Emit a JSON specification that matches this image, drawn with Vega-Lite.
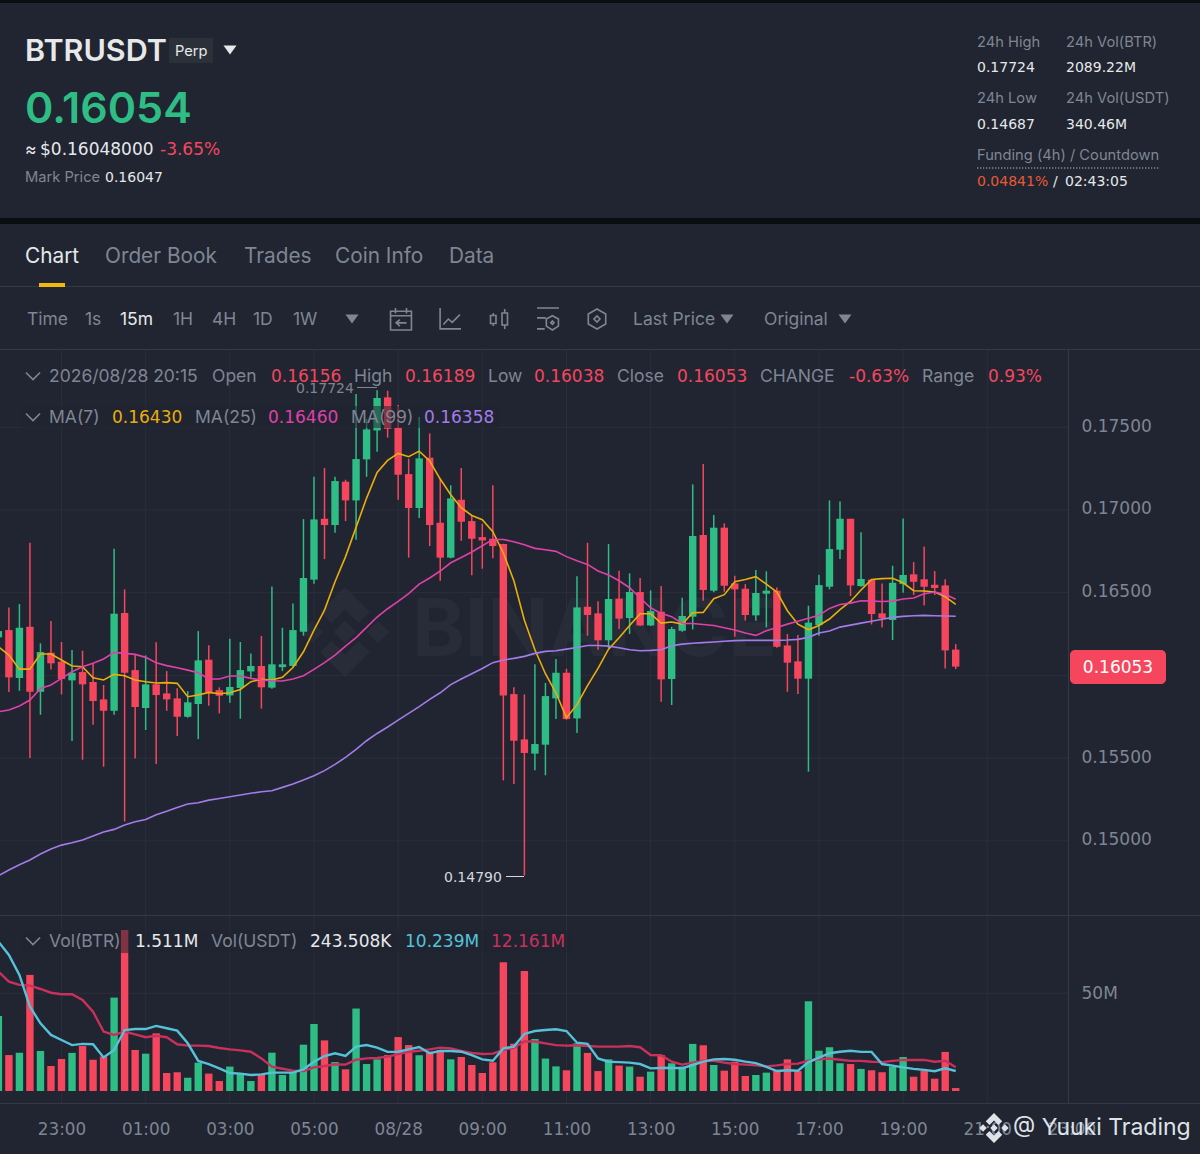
{
  "$schema": "https://vega.github.io/schema/vega-lite/v6.json",
  "width": 1200,
  "height": 1154,
  "autosize": {"type": "none"},
  "padding": 0,
  "background": "#202531",
  "config": {"font": "Inter", "view": {"stroke": null}},
  "datasets": {
    "candles": [
      {"t":"2026-08-27T21:30Z","open":0.16230,"high":0.16355,"low":0.16194,"close":0.16268,"ma7":0.16173,"ma25":0.15780,"ma99":0.14789,"vol":38.4,"vol5":76.5,"vol10":61.1},
      {"t":"2026-08-27T21:45Z","open":0.16274,"high":0.16411,"low":0.15899,"close":0.15988,"ma7":0.16123,"ma25":0.15791,"ma99":0.14823,"vol":18.4,"vol5":69.6,"vol10":56.0},
      {"t":"2026-08-27T22:00Z","open":0.15984,"high":0.16431,"low":0.15907,"close":0.16288,"ma7":0.16038,"ma25":0.15815,"ma99":0.14855,"vol":19.6,"vol5":59.4,"vol10":54.3},
      {"t":"2026-08-27T22:15Z","open":0.16294,"high":0.16802,"low":0.15500,"close":0.15901,"ma7":0.16038,"ma25":0.15851,"ma99":0.14884,"vol":59.4,"vol5":43.2,"vol10":53.9},
      {"t":"2026-08-27T22:30Z","open":0.15901,"high":0.16194,"low":0.15762,"close":0.16141,"ma7":0.16129,"ma25":0.15921,"ma99":0.14920,"vol":20.5,"vol5":34.6,"vol10":52.2},
      {"t":"2026-08-27T22:45Z","open":0.16137,"high":0.16329,"low":0.16036,"close":0.16073,"ma7":0.16129,"ma25":0.15942,"ma99":0.14950,"vol":12.8,"vol5":28.7,"vol10":50.3},
      {"t":"2026-08-27T23:00Z","open":0.16083,"high":0.16202,"low":0.15885,"close":0.15978,"ma7":0.16093,"ma25":0.15982,"ma99":0.14974,"vol":16.4,"vol5":26.1,"vol10":49.5},
      {"t":"2026-08-27T23:15Z","open":0.15970,"high":0.16153,"low":0.15603,"close":0.16016,"ma7":0.16057,"ma25":0.16022,"ma99":0.14988,"vol":19.5,"vol5":23.5,"vol10":49.5},
      {"t":"2026-08-27T23:30Z","open":0.16020,"high":0.16149,"low":0.15490,"close":0.15946,"ma7":0.16052,"ma25":0.16052,"ma99":0.15005,"vol":23.0,"vol5":24.1,"vol10":46.6},
      {"t":"2026-08-27T23:45Z","open":0.15960,"high":0.16073,"low":0.15702,"close":0.15845,"ma7":0.15986,"ma25":0.16073,"ma99":0.15029,"vol":16.0,"vol5":23.9,"vol10":40.6},
      {"t":"2026-08-28T00:00Z","open":0.15855,"high":0.15942,"low":0.15448,"close":0.15786,"ma7":0.15972,"ma25":0.16099,"ma99":0.15053,"vol":17.6,"vol5":17.2,"vol10":30.4},
      {"t":"2026-08-28T00:15Z","open":0.15786,"high":0.16766,"low":0.15762,"close":0.16373,"ma7":0.16006,"ma25":0.16139,"ma99":0.15069,"vol":47.8,"vol5":21.0,"vol10":28.7},
      {"t":"2026-08-28T00:30Z","open":0.16377,"high":0.16520,"low":0.15117,"close":0.16016,"ma7":0.15998,"ma25":0.16133,"ma99":0.15095,"vol":82.4,"vol5":31.2,"vol10":30.4},
      {"t":"2026-08-28T00:45Z","open":0.16032,"high":0.16123,"low":0.15498,"close":0.15809,"ma7":0.15972,"ma25":0.16127,"ma99":0.15115,"vol":21.0,"vol5":31.7,"vol10":29.0},
      {"t":"2026-08-28T01:00Z","open":0.15803,"high":0.16121,"low":0.15670,"close":0.15946,"ma7":0.15962,"ma25":0.16109,"ma99":0.15129,"vol":19.1,"vol5":31.7,"vol10":27.5},
      {"t":"2026-08-28T01:15Z","open":0.15946,"high":0.16200,"low":0.15464,"close":0.15881,"ma7":0.15954,"ma25":0.16077,"ma99":0.15158,"vol":29.5,"vol5":33.3,"vol10":28.3},
      {"t":"2026-08-28T01:30Z","open":0.15891,"high":0.16026,"low":0.15786,"close":0.15855,"ma7":0.15956,"ma25":0.16059,"ma99":0.15178,"vol":9.2,"vol5":32.1,"vol10":27.5},
      {"t":"2026-08-28T01:45Z","open":0.15861,"high":0.15922,"low":0.15633,"close":0.15750,"ma7":0.15952,"ma25":0.16046,"ma99":0.15202,"vol":9.6,"vol5":30.9,"vol10":23.9},
      {"t":"2026-08-28T02:00Z","open":0.15750,"high":0.15905,"low":0.15744,"close":0.15837,"ma7":0.15871,"ma25":0.16032,"ma99":0.15222,"vol":6.8,"vol5":24.4,"vol10":23.2},
      {"t":"2026-08-28T02:15Z","open":0.15827,"high":0.16268,"low":0.15615,"close":0.16091,"ma7":0.15881,"ma25":0.16016,"ma99":0.15230,"vol":14.5,"vol5":15.4,"vol10":23.2},
      {"t":"2026-08-28T02:30Z","open":0.16095,"high":0.16183,"low":0.15817,"close":0.15899,"ma7":0.15897,"ma25":0.15978,"ma99":0.15246,"vol":8.9,"vol5":13.8,"vol10":23.0},
      {"t":"2026-08-28T02:45Z","open":0.15911,"high":0.15928,"low":0.15770,"close":0.15877,"ma7":0.15889,"ma25":0.15978,"ma99":0.15256,"vol":5.1,"vol5":11.6,"vol10":22.0},
      {"t":"2026-08-28T03:00Z","open":0.15879,"high":0.16222,"low":0.15835,"close":0.15930,"ma7":0.15895,"ma25":0.15996,"ma99":0.15266,"vol":12.5,"vol5":9.2,"vol10":21.3},
      {"t":"2026-08-28T03:15Z","open":0.15924,"high":0.16202,"low":0.15738,"close":0.16032,"ma7":0.15915,"ma25":0.15996,"ma99":0.15277,"vol":9.0,"vol5":8.9,"vol10":20.8},
      {"t":"2026-08-28T03:30Z","open":0.16024,"high":0.16133,"low":0.15986,"close":0.16057,"ma7":0.15962,"ma25":0.15982,"ma99":0.15287,"vol":5.1,"vol5":8.2,"vol10":20.1},
      {"t":"2026-08-28T03:45Z","open":0.16057,"high":0.16238,"low":0.15799,"close":0.15928,"ma7":0.15976,"ma25":0.15972,"ma99":0.15297,"vol":8.2,"vol5":8.5,"vol10":16.7},
      {"t":"2026-08-28T04:00Z","open":0.15926,"high":0.16538,"low":0.15920,"close":0.16067,"ma7":0.15972,"ma25":0.15968,"ma99":0.15303,"vol":19.6,"vol5":9.4,"vol10":12.5},
      {"t":"2026-08-28T04:15Z","open":0.16050,"high":0.16288,"low":0.16026,"close":0.16067,"ma7":0.15988,"ma25":0.15966,"ma99":0.15323,"vol":8.2,"vol5":9.4,"vol10":11.4},
      {"t":"2026-08-28T04:30Z","open":0.16057,"high":0.16435,"low":0.16052,"close":0.16274,"ma7":0.16048,"ma25":0.15978,"ma99":0.15343,"vol":9.4,"vol5":9.4,"vol10":10.4},
      {"t":"2026-08-28T04:45Z","open":0.16264,"high":0.16945,"low":0.16240,"close":0.16589,"ma7":0.16143,"ma25":0.15998,"ma99":0.15367,"vol":23.7,"vol5":11.1,"vol10":10.2},
      {"t":"2026-08-28T05:00Z","open":0.16579,"high":0.17201,"low":0.16554,"close":0.16943,"ma7":0.16274,"ma25":0.16036,"ma99":0.15393,"vol":34.3,"vol5":15.0,"vol10":12.1},
      {"t":"2026-08-28T05:15Z","open":0.16947,"high":0.17254,"low":0.16703,"close":0.16909,"ma7":0.16395,"ma25":0.16077,"ma99":0.15424,"vol":25.9,"vol5":17.9,"vol10":12.8},
      {"t":"2026-08-28T05:30Z","open":0.16909,"high":0.17201,"low":0.16863,"close":0.17175,"ma7":0.16566,"ma25":0.16123,"ma99":0.15462,"vol":14.8,"vol5":19.3,"vol10":13.7},
      {"t":"2026-08-28T05:45Z","open":0.17171,"high":0.17183,"low":0.16933,"close":0.17058,"ma7":0.16718,"ma25":0.16177,"ma99":0.15504,"vol":11.1,"vol5":17.9,"vol10":13.5},
      {"t":"2026-08-28T06:00Z","open":0.17058,"high":0.17701,"low":0.16820,"close":0.17308,"ma7":0.16895,"ma25":0.16228,"ma99":0.15553,"vol":42.2,"vol5":22.7,"vol10":16.0},
      {"t":"2026-08-28T06:15Z","open":0.17306,"high":0.17550,"low":0.17201,"close":0.17487,"ma7":0.17072,"ma25":0.16290,"ma99":0.15605,"vol":13.8,"vol5":23.5,"vol10":16.7},
      {"t":"2026-08-28T06:30Z","open":0.17481,"high":0.17724,"low":0.17352,"close":0.17677,"ma7":0.17227,"ma25":0.16353,"ma99":0.15649,"vol":16.2,"vol5":22.2,"vol10":16.9},
      {"t":"2026-08-28T06:45Z","open":0.17681,"high":0.17721,"low":0.17437,"close":0.17491,"ma7":0.17300,"ma25":0.16403,"ma99":0.15688,"vol":18.4,"vol5":20.0,"vol10":17.6},
      {"t":"2026-08-28T07:00Z","open":0.17497,"high":0.17635,"low":0.17062,"close":0.17213,"ma7":0.17342,"ma25":0.16447,"ma99":0.15730,"vol":27.6,"vol5":20.1,"vol10":18.9},
      {"t":"2026-08-28T07:15Z","open":0.17217,"high":0.17310,"low":0.16712,"close":0.17012,"ma7":0.17322,"ma25":0.16494,"ma99":0.15770,"vol":23.5,"vol5":21.3,"vol10":20.1},
      {"t":"2026-08-28T07:30Z","open":0.17012,"high":0.17562,"low":0.16951,"close":0.17312,"ma7":0.17356,"ma25":0.16552,"ma99":0.15811,"vol":18.3,"vol5":22.5,"vol10":20.6},
      {"t":"2026-08-28T07:45Z","open":0.17316,"high":0.17463,"low":0.16782,"close":0.16909,"ma7":0.17296,"ma25":0.16589,"ma99":0.15855,"vol":20.1,"vol5":19.3,"vol10":21.3},
      {"t":"2026-08-28T08:00Z","open":0.16923,"high":0.17193,"low":0.16572,"close":0.16712,"ma7":0.17187,"ma25":0.16631,"ma99":0.15895,"vol":21.0,"vol5":20.5,"vol10":22.2},
      {"t":"2026-08-28T08:15Z","open":0.16712,"high":0.17149,"low":0.16708,"close":0.17070,"ma7":0.17092,"ma25":0.16681,"ma99":0.15944,"vol":16.2,"vol5":20.5,"vol10":21.8},
      {"t":"2026-08-28T08:30Z","open":0.17062,"high":0.17254,"low":0.16814,"close":0.16929,"ma7":0.17014,"ma25":0.16713,"ma99":0.15978,"vol":17.4,"vol5":20.1,"vol10":20.5},
      {"t":"2026-08-28T08:45Z","open":0.16933,"high":0.16967,"low":0.16605,"close":0.16826,"ma7":0.16967,"ma25":0.16746,"ma99":0.16010,"vol":13.3,"vol5":18.4,"vol10":19.5},
      {"t":"2026-08-28T09:00Z","open":0.16836,"high":0.16917,"low":0.16645,"close":0.16816,"ma7":0.16941,"ma25":0.16784,"ma99":0.16042,"vol":9.2,"vol5":16.2,"vol10":18.9},
      {"t":"2026-08-28T09:15Z","open":0.16826,"high":0.17149,"low":0.16709,"close":0.16782,"ma7":0.16869,"ma25":0.16822,"ma99":0.16077,"vol":14.7,"vol5":15.5,"vol10":19.1},
      {"t":"2026-08-28T09:30Z","open":0.16794,"high":0.16796,"low":0.15365,"close":0.15879,"ma7":0.16740,"ma25":0.16822,"ma99":0.16093,"vol":65.9,"vol5":21.8,"vol10":21.0},
      {"t":"2026-08-28T09:45Z","open":0.15887,"high":0.15928,"low":0.15343,"close":0.15605,"ma7":0.16572,"ma25":0.16808,"ma99":0.16103,"vol":24.2,"vol5":22.7,"vol10":22.2},
      {"t":"2026-08-28T10:00Z","open":0.15613,"high":0.15885,"low":0.14790,"close":0.15531,"ma7":0.16333,"ma25":0.16790,"ma99":0.16115,"vol":61.4,"vol5":29.2,"vol10":25.3},
      {"t":"2026-08-28T10:15Z","open":0.15527,"high":0.16067,"low":0.15426,"close":0.15585,"ma7":0.16155,"ma25":0.16768,"ma99":0.16133,"vol":26.6,"vol5":30.7,"vol10":25.3},
      {"t":"2026-08-28T10:30Z","open":0.15581,"high":0.15954,"low":0.15396,"close":0.15875,"ma7":0.16010,"ma25":0.16760,"ma99":0.16145,"vol":16.6,"vol5":31.2,"vol10":24.4},
      {"t":"2026-08-28T10:45Z","open":0.15861,"high":0.16099,"low":0.15736,"close":0.16016,"ma7":0.15895,"ma25":0.16750,"ma99":0.16149,"vol":12.6,"vol5":31.6,"vol10":23.5},
      {"t":"2026-08-28T11:00Z","open":0.16016,"high":0.16040,"low":0.15732,"close":0.15736,"ma7":0.15744,"ma25":0.16718,"ma99":0.16159,"vol":10.6,"vol5":30.7,"vol10":23.2},
      {"t":"2026-08-28T11:15Z","open":0.15740,"high":0.16599,"low":0.15651,"close":0.16411,"ma7":0.15823,"ma25":0.16693,"ma99":0.16169,"vol":24.4,"vol5":24.7,"vol10":23.4},
      {"t":"2026-08-28T11:30Z","open":0.16415,"high":0.16802,"low":0.16240,"close":0.16365,"ma7":0.15938,"ma25":0.16671,"ma99":0.16181,"vol":19.5,"vol5":24.1,"vol10":23.0},
      {"t":"2026-08-28T11:45Z","open":0.16375,"high":0.16448,"low":0.16155,"close":0.16212,"ma7":0.16042,"ma25":0.16631,"ma99":0.16181,"vol":10.2,"vol5":16.7,"vol10":22.7},
      {"t":"2026-08-28T12:00Z","open":0.16212,"high":0.16794,"low":0.16165,"close":0.16462,"ma7":0.16159,"ma25":0.16607,"ma99":0.16177,"vol":16.2,"vol5":15.0,"vol10":22.7},
      {"t":"2026-08-28T12:15Z","open":0.16464,"high":0.16633,"low":0.16280,"close":0.16343,"ma7":0.16228,"ma25":0.16572,"ma99":0.16167,"vol":13.0,"vol5":14.8,"vol10":22.7},
      {"t":"2026-08-28T12:30Z","open":0.16347,"high":0.16617,"low":0.16250,"close":0.16504,"ma7":0.16302,"ma25":0.16530,"ma99":0.16155,"vol":12.5,"vol5":14.5,"vol10":23.0},
      {"t":"2026-08-28T12:45Z","open":0.16504,"high":0.16589,"low":0.16298,"close":0.16302,"ma7":0.16373,"ma25":0.16468,"ma99":0.16149,"vol":7.3,"vol5":13.8,"vol10":22.4},
      {"t":"2026-08-28T13:00Z","open":0.16302,"high":0.16514,"low":0.16298,"close":0.16389,"ma7":0.16373,"ma25":0.16409,"ma99":0.16151,"vol":9.9,"vol5":11.6,"vol10":18.4},
      {"t":"2026-08-28T13:15Z","open":0.16385,"high":0.16540,"low":0.15841,"close":0.15976,"ma7":0.16316,"ma25":0.16375,"ma99":0.16155,"vol":18.4,"vol5":11.8,"vol10":18.3},
      {"t":"2026-08-28T13:30Z","open":0.15978,"high":0.16294,"low":0.15821,"close":0.16280,"ma7":0.16323,"ma25":0.16355,"ma99":0.16179,"vol":14.2,"vol5":11.9,"vol10":15.0},
      {"t":"2026-08-28T13:45Z","open":0.16270,"high":0.16470,"low":0.16264,"close":0.16359,"ma7":0.16310,"ma25":0.16314,"ma99":0.16189,"vol":12.5,"vol5":11.6,"vol10":13.5},
      {"t":"2026-08-28T14:00Z","open":0.16355,"high":0.17155,"low":0.16278,"close":0.16843,"ma7":0.16379,"ma25":0.16314,"ma99":0.16194,"vol":24.1,"vol5":13.3,"vol10":14.5},
      {"t":"2026-08-28T14:15Z","open":0.16849,"high":0.17278,"low":0.16452,"close":0.16516,"ma7":0.16381,"ma25":0.16308,"ma99":0.16198,"vol":23.4,"vol5":15.0,"vol10":15.4},
      {"t":"2026-08-28T14:30Z","open":0.16512,"high":0.16969,"low":0.16502,"close":0.16893,"ma7":0.16464,"ma25":0.16302,"ma99":0.16202,"vol":13.3,"vol5":16.2,"vol10":15.5},
      {"t":"2026-08-28T14:45Z","open":0.16893,"high":0.16919,"low":0.16506,"close":0.16542,"ma7":0.16488,"ma25":0.16288,"ma99":0.16206,"vol":10.4,"vol5":16.4,"vol10":14.5},
      {"t":"2026-08-28T15:00Z","open":0.16556,"high":0.16603,"low":0.16234,"close":0.16520,"ma7":0.16566,"ma25":0.16274,"ma99":0.16210,"vol":15.0,"vol5":16.0,"vol10":13.8},
      {"t":"2026-08-28T15:15Z","open":0.16524,"high":0.16552,"low":0.16331,"close":0.16365,"ma7":0.16580,"ma25":0.16256,"ma99":0.16212,"vol":7.7,"vol5":15.0,"vol10":13.5},
      {"t":"2026-08-28T15:30Z","open":0.16363,"high":0.16637,"low":0.16331,"close":0.16498,"ma7":0.16597,"ma25":0.16242,"ma99":0.16212,"vol":8.2,"vol5":14.3,"vol10":13.1},
      {"t":"2026-08-28T15:45Z","open":0.16494,"high":0.16629,"low":0.16290,"close":0.16512,"ma7":0.16552,"ma25":0.16270,"ma99":0.16212,"vol":9.4,"vol5":12.3,"vol10":12.6},
      {"t":"2026-08-28T16:00Z","open":0.16512,"high":0.16532,"low":0.16167,"close":0.16173,"ma7":0.16504,"ma25":0.16290,"ma99":0.16212,"vol":10.8,"vol5":10.2,"vol10":13.1},
      {"t":"2026-08-28T16:15Z","open":0.16181,"high":0.16250,"low":0.15901,"close":0.16077,"ma7":0.16391,"ma25":0.16310,"ma99":0.16214,"vol":16.2,"vol5":10.6,"vol10":13.8},
      {"t":"2026-08-28T16:30Z","open":0.16085,"high":0.16244,"low":0.15887,"close":0.15980,"ma7":0.16310,"ma25":0.16327,"ma99":0.16218,"vol":10.2,"vol5":10.4,"vol10":14.0},
      {"t":"2026-08-28T16:45Z","open":0.15980,"high":0.16421,"low":0.15418,"close":0.16319,"ma7":0.16276,"ma25":0.16345,"ma99":0.16230,"vol":45.9,"vol5":14.8,"vol10":15.5},
      {"t":"2026-08-28T17:00Z","open":0.16304,"high":0.16609,"low":0.16240,"close":0.16546,"ma7":0.16302,"ma25":0.16363,"ma99":0.16256,"vol":20.6,"vol5":17.1,"vol10":16.2},
      {"t":"2026-08-28T17:15Z","open":0.16536,"high":0.17058,"low":0.16520,"close":0.16764,"ma7":0.16341,"ma25":0.16405,"ma99":0.16268,"vol":22.4,"vol5":19.3,"vol10":16.6},
      {"t":"2026-08-28T17:30Z","open":0.16760,"high":0.17052,"low":0.16703,"close":0.16947,"ma7":0.16397,"ma25":0.16429,"ma99":0.16292,"vol":14.2,"vol5":20.1,"vol10":16.0},
      {"t":"2026-08-28T17:45Z","open":0.16947,"high":0.16947,"low":0.16480,"close":0.16544,"ma7":0.16447,"ma25":0.16437,"ma99":0.16304,"vol":13.8,"vol5":20.6,"vol10":15.4},
      {"t":"2026-08-28T18:00Z","open":0.16540,"high":0.16865,"low":0.16536,"close":0.16583,"ma7":0.16516,"ma25":0.16451,"ma99":0.16316,"vol":11.3,"vol5":20.0,"vol10":15.4},
      {"t":"2026-08-28T18:15Z","open":0.16579,"high":0.16583,"low":0.16308,"close":0.16371,"ma7":0.16580,"ma25":0.16449,"ma99":0.16327,"vol":10.6,"vol5":20.0,"vol10":15.0},
      {"t":"2026-08-28T18:30Z","open":0.16375,"high":0.16556,"low":0.16290,"close":0.16345,"ma7":0.16585,"ma25":0.16447,"ma99":0.16339,"vol":9.6,"vol5":13.8,"vol10":14.8},
      {"t":"2026-08-28T18:45Z","open":0.16335,"high":0.16663,"low":0.16214,"close":0.16560,"ma7":0.16587,"ma25":0.16449,"ma99":0.16351,"vol":12.5,"vol5":13.0,"vol10":15.4},
      {"t":"2026-08-28T19:00Z","open":0.16552,"high":0.16949,"low":0.16500,"close":0.16607,"ma7":0.16560,"ma25":0.16462,"ma99":0.16357,"vol":17.4,"vol5":12.1,"vol10":15.9},
      {"t":"2026-08-28T19:15Z","open":0.16611,"high":0.16685,"low":0.16486,"close":0.16566,"ma7":0.16512,"ma25":0.16468,"ma99":0.16361,"vol":7.3,"vol5":11.3,"vol10":15.9},
      {"t":"2026-08-28T19:30Z","open":0.16581,"high":0.16780,"low":0.16423,"close":0.16536,"ma7":0.16510,"ma25":0.16494,"ma99":0.16363,"vol":10.4,"vol5":10.8,"vol10":15.9},
      {"t":"2026-08-28T19:45Z","open":0.16548,"high":0.16631,"low":0.16486,"close":0.16528,"ma7":0.16504,"ma25":0.16504,"ma99":0.16361,"vol":6.3,"vol5":10.1,"vol10":15.0},
      {"t":"2026-08-28T20:00Z","open":0.16544,"high":0.16581,"low":0.16042,"close":0.16151,"ma7":0.16476,"ma25":0.16490,"ma99":0.16359,"vol":20.0,"vol5":11.6,"vol10":15.5},
      {"t":"2026-08-28T20:15Z","open":0.16156,"high":0.16189,"low":0.16038,"close":0.16053,"ma7":0.16430,"ma25":0.16460,"ma99":0.16358,"vol":1.511,"vol5":10.239,"vol10":12.161}
    ]
  },
  "resolve": {
    "scale": {"x": "independent", "y": "independent", "color": "independent"},
    "axis": {"x": "independent", "y": "independent"}
  },
  "layer": [
    {
      "encoding": {
        "x": {"field": "x0", "type": "quantitative", "scale": {"domain": [0, 1200], "nice": false, "zero": false}, "axis": null},
        "y": {"field": "y0", "type": "quantitative", "scale": {"domain": [0, 1154], "reverse": true, "nice": false, "zero": false}, "axis": null}
      },
      "layer": [
        {
          "data": {"values": [
            {"label": "BINANCE", "x0": 412, "y0": 632}
          ]},
          "mark": {"type": "text", "align": "left", "baseline": "middle", "fontSize": 80, "fontWeight": 700, "color": "#272c38"},
          "encoding": {"text": {"field": "label"}}
        },
        {
          "data": {"values": [{"x0": 345, "y0": 632}]},
          "mark": {"type": "point", "filled": true, "opacity": 1, "color": "#272c38", "size": 8100,
            "shape": "M0,-0.25 L0.25,0 L0,0.25 L-0.25,0 Z M-0.73,-0.25 L-0.48,0 L-0.73,0.25 L-0.98,0 Z M0.73,-0.25 L0.98,0 L0.73,0.25 L0.48,0 Z M0,-1 L0.55,-0.45 L0.3,-0.2 L0,-0.5 L-0.3,-0.2 L-0.55,-0.45 Z M0,1 L0.55,0.45 L0.3,0.2 L0,0.5 L-0.3,0.2 L-0.55,0.45 Z"}
        }
      ]
    },
    {
      "data": {"name": "candles"},
      "layer": [
        {
          "data": {"values": [
            {"t": "2026-08-27T23:00Z", "top": 0.17967, "bottom": 0.13415},
            {"t": "2026-08-28T01:00Z", "top": 0.17967, "bottom": 0.13415},
            {"t": "2026-08-28T03:00Z", "top": 0.17967, "bottom": 0.13415},
            {"t": "2026-08-28T05:00Z", "top": 0.17967, "bottom": 0.13415},
            {"t": "2026-08-28T07:00Z", "top": 0.17967, "bottom": 0.13415},
            {"t": "2026-08-28T09:00Z", "top": 0.17967, "bottom": 0.13415},
            {"t": "2026-08-28T11:00Z", "top": 0.17967, "bottom": 0.13415},
            {"t": "2026-08-28T13:00Z", "top": 0.17967, "bottom": 0.13415},
            {"t": "2026-08-28T15:00Z", "top": 0.17967, "bottom": 0.13415},
            {"t": "2026-08-28T17:00Z", "top": 0.17967, "bottom": 0.13415},
            {"t": "2026-08-28T19:00Z", "top": 0.17967, "bottom": 0.13415},
            {"t": "2026-08-28T21:00Z", "top": 0.17967, "bottom": 0.13415}
          ]},
          "mark": {"type": "rule", "color": "#2a2f3b", "strokeWidth": 1},
          "encoding": {
            "x": {"field": "t", "type": "temporal", "scale": {"type": "utc", "domain": ["2026-08-27T21:32:19Z", "2026-08-29T02:03:18Z"], "nice": false, "padding": 0}, "axis": null},
            "y": {"field": "top", "type": "quantitative", "scale": {"domain": [0.131064, 0.200834], "nice": false, "zero": false},
              "axis": {"orient": "right", "offset": -132, "values": [0.15, 0.155, 0.165, 0.17, 0.175], "format": ".5f", "domain": false, "ticks": false, "grid": false, "title": null, "labelPadding": 13, "labelOffset": -1, "labelFont": "DejaVu Sans", "labelColor": "#7f8693", "labelFontSize": 17, "labelOverlap": false, "labelBound": false, "labelFlush": false}},
            "y2": {"field": "bottom"}
          }
        },
        {
          "data": {"values": [
            {"level": 0.175, "from": "2026-08-27T21:32:19Z", "to": "2026-08-28T22:55:08Z"},
            {"level": 0.170, "from": "2026-08-27T21:32:19Z", "to": "2026-08-28T22:55:08Z"},
            {"level": 0.165, "from": "2026-08-27T21:32:19Z", "to": "2026-08-28T22:55:08Z"},
            {"level": 0.160, "from": "2026-08-27T21:32:19Z", "to": "2026-08-28T22:55:08Z"},
            {"level": 0.155, "from": "2026-08-27T21:32:19Z", "to": "2026-08-28T22:55:08Z"},
            {"level": 0.150, "from": "2026-08-27T21:32:19Z", "to": "2026-08-28T22:55:08Z"}
          ]},
          "mark": {"type": "rule", "color": "#2a2f3b", "strokeWidth": 1},
          "encoding": {
            "x": {"field": "from", "type": "temporal"},
            "x2": {"field": "to"},
            "y": {"field": "level", "type": "quantitative"}
          }
        },
        {
          "mark": {"type": "rule", "strokeWidth": 1.5},
          "encoding": {
            "x": {"field": "t", "type": "temporal"},
            "y": {"field": "low", "type": "quantitative"},
            "y2": {"field": "high"},
            "color": {"condition": {"test": "datum.close < datum.open", "value": "#f6465d"}, "value": "#2ebd85"}
          }
        },
        {
          "mark": {"type": "bar", "orient": "vertical", "size": 7.4},
          "encoding": {
            "x": {"field": "t", "type": "temporal"},
            "y": {"field": "open", "type": "quantitative"},
            "y2": {"field": "close"},
            "color": {"condition": {"test": "datum.close < datum.open", "value": "#f6465d"}, "value": "#2ebd85"}
          }
        },
        {
          "mark": {"type": "line", "color": "#eaae0c", "strokeWidth": 1.6},
          "encoding": {"x": {"field": "t", "type": "temporal"}, "y": {"field": "ma7", "type": "quantitative"}}
        },
        {
          "mark": {"type": "line", "color": "#df41a9", "strokeWidth": 1.6},
          "encoding": {"x": {"field": "t", "type": "temporal"}, "y": {"field": "ma25", "type": "quantitative"}}
        },
        {
          "mark": {"type": "line", "color": "#a27ce8", "strokeWidth": 1.6},
          "encoding": {"x": {"field": "t", "type": "temporal"}, "y": {"field": "ma99", "type": "quantitative"}}
        }
      ]
    },
    {
      "data": {"name": "candles"},
      "layer": [
        {
          "data": {"values": [
            {"level": 50, "from": "2026-08-27T21:32:19Z", "to": "2026-08-28T22:55:08Z"}
          ]},
          "mark": {"type": "rule", "color": "#2a2f3b", "strokeWidth": 1},
          "encoding": {
            "x": {"field": "from", "type": "temporal", "scale": {"type": "utc", "domain": ["2026-08-27T21:32:19Z", "2026-08-29T02:03:18Z"], "nice": false, "padding": 0},
              "axis": {"orient": "bottom", "offset": -51, "values": ["2026-08-27T23:00Z", "2026-08-28T01:00Z", "2026-08-28T03:00Z", "2026-08-28T05:00Z", "2026-08-28T07:00Z", "2026-08-28T09:00Z", "2026-08-28T11:00Z", "2026-08-28T13:00Z", "2026-08-28T15:00Z", "2026-08-28T17:00Z", "2026-08-28T19:00Z", "2026-08-28T21:00Z", "2026-08-28T23:00Z"],
                "labelExpr": "utcFormat(datum.value, '%H:%M') == '07:00' ? '08/28' : utcFormat(datum.value, '%H:%M')",
                "domain": false, "ticks": false, "grid": false, "title": null, "labelPadding": 18, "labelFont": "DejaVu Sans", "labelColor": "#7f8693", "labelFontSize": 16.8, "labelOverlap": false, "labelBound": false, "labelFlush": false}},
            "x2": {"field": "to"},
            "y": {"field": "level", "type": "quantitative", "scale": {"domain": [-32.24, 558.3], "nice": false, "zero": false},
              "axis": {"orient": "right", "offset": -132, "values": [50], "labelExpr": "datum.value + 'M'", "domain": false, "ticks": false, "grid": false, "title": null, "labelPadding": 13, "labelFont": "DejaVu Sans", "labelColor": "#7f8693", "labelFontSize": 17, "labelBound": false, "labelFlush": false}}
          }
        },
        {
          "mark": {"type": "bar", "orient": "vertical", "size": 7.4},
          "encoding": {
            "x": {"field": "t", "type": "temporal"},
            "y": {"field": "vol", "type": "quantitative"},
            "color": {"condition": {"test": "datum.close < datum.open", "value": "#f6465d"}, "value": "#2ebd85"}
          }
        },
        {
          "mark": {"type": "line", "color": "#c9305c", "strokeWidth": 2.4},
          "encoding": {"x": {"field": "t", "type": "temporal"}, "y": {"field": "vol10", "type": "quantitative"}}
        },
        {
          "mark": {"type": "line", "color": "#55c2d8", "strokeWidth": 2.4},
          "encoding": {"x": {"field": "t", "type": "temporal"}, "y": {"field": "vol5", "type": "quantitative"}}
        }
      ]
    },
    {
      "encoding": {
        "x": {"field": "x0", "type": "quantitative", "scale": {"domain": [0, 1200], "nice": false, "zero": false}, "axis": null},
        "y": {"field": "y0", "type": "quantitative", "scale": {"domain": [0, 1154], "reverse": true, "nice": false, "zero": false}, "axis": null},
        "text": {"field": "label"},
        "color": {
          "field": "tone", "type": "nominal", "legend": null,
          "scale": {
            "domain": ["border", "black", "badge", "gold", "leader", "white", "bright", "muted", "up", "down", "ma7", "ma25", "ma99", "vol5", "vol10", "funding", "low", "stamp"],
            "range": ["#333945", "#0b0e11", "#2b3139", "#f0b90b", "#7f8693", "#ffffff", "#e6e8ea", "#7f8693", "#2ebd85", "#f6465d", "#eaae0c", "#df41a9", "#a27ce8", "#55c2d8", "#c9305c", "#e85a36", "#d5d8de", "#dfe3e8"]
          }
        }
      },
      "layer": [
        {
          "data": {"values": [
            {"x0": 22, "x1": 500, "y0": 406, "y1": 428},
            {"x0": 22, "x1": 572, "y0": 930, "y1": 953}
          ]},
          "mark": {"type": "rect", "color": "#202531", "opacity": 0.55},
          "encoding": {"x2": {"field": "x1"}, "y2": {"field": "y1"}, "color": {"value": "#202531"}, "text": null}
        },
        {
          "data": {"values": [
            {"x0": 0, "x1": 1200, "y0": 0, "y1": 3, "tone": "black"},
            {"x0": 0, "x1": 1200, "y0": 218, "y1": 224, "tone": "black"},
            {"x0": 0, "x1": 1200, "y0": 286, "y1": 287, "tone": "border"},
            {"x0": 0, "x1": 1200, "y0": 349, "y1": 350, "tone": "border"},
            {"x0": 0, "x1": 1200, "y0": 915, "y1": 916, "tone": "border"},
            {"x0": 0, "x1": 1200, "y0": 1103, "y1": 1104, "tone": "border"},
            {"x0": 1068, "x1": 1069, "y0": 350, "y1": 1103, "tone": "border"},
            {"x0": 169, "x1": 213, "y0": 38, "y1": 63, "tone": "badge"},
            {"x0": 39, "x1": 65, "y0": 283, "y1": 287, "tone": "gold"},
            {"x0": 357, "x1": 377, "y0": 387, "y1": 388, "tone": "leader"},
            {"x0": 506, "x1": 524, "y0": 876, "y1": 877, "tone": "low"}
          ]},
          "mark": {"type": "rect"},
          "encoding": {"x2": {"field": "x1"}, "y2": {"field": "y1"}, "text": null}
        },
        {
          "data": {"values": [{"x0": 977, "x1": 1160, "y0": 168}]},
          "mark": {"type": "rule", "color": "#7f8693", "strokeWidth": 1.3, "strokeDash": [1.3, 1.7]},
          "encoding": {"x2": {"field": "x1"}, "color": {"value": "#7f8693"}, "text": null}
        },
        {
          "data": {"values": [{"x0": 1070, "x1": 1166, "y0": 650, "y1": 684}]},
          "mark": {"type": "rect", "cornerRadius": 5},
          "encoding": {"x2": {"field": "x1"}, "y2": {"field": "y1"}, "color": {"value": "#f6465d"}, "text": null}
        },
        {
          "data": {"values": [
            {"label": "BTRUSDT", "x0": 25, "y0": 51, "tone": "bright"}
          ]},
          "mark": {"type": "text", "align": "left", "baseline": "middle", "dy": 1, "fontSize": 30.5, "fontWeight": 600}
        },
        {
          "data": {"values": [
            {"label": "0.16054", "x0": 25, "y0": 109, "tone": "up"}
          ]},
          "mark": {"type": "text", "align": "left", "baseline": "middle", "dy": 1, "fontSize": 43, "fontWeight": 600}
        },
        {
          "data": {"values": [
            {"label": "Chart", "x0": 25, "y0": 256, "tone": "bright"},
            {"label": "Order Book", "x0": 105, "y0": 256, "tone": "muted"},
            {"label": "Trades", "x0": 244, "y0": 256, "tone": "muted"},
            {"label": "Coin Info", "x0": 335, "y0": 256, "tone": "muted"},
            {"label": "Data", "x0": 449, "y0": 256, "tone": "muted"}
          ]},
          "mark": {"type": "text", "align": "left", "baseline": "middle", "dy": 1, "fontSize": 20.8}
        },
        {
          "data": {"values": [
            {"label": "≈", "x0": 25, "y0": 149, "tone": "bright"},
            {"label": "Time", "x0": 27, "y0": 319, "tone": "muted"},
            {"label": "1s", "x0": 85, "y0": 319, "tone": "muted"},
            {"label": "15m", "x0": 120, "y0": 319, "tone": "bright"},
            {"label": "1H", "x0": 173, "y0": 319, "tone": "muted"},
            {"label": "4H", "x0": 212, "y0": 319, "tone": "muted"},
            {"label": "1D", "x0": 253, "y0": 319, "tone": "muted"},
            {"label": "1W", "x0": 293, "y0": 319, "tone": "muted"},
            {"label": "Last Price", "x0": 633, "y0": 319, "tone": "muted"},
            {"label": "Original", "x0": 764, "y0": 319, "tone": "muted"},
            {"label": "2026/08/28 20:15", "x0": 49, "y0": 376, "tone": "muted"},
            {"label": "Open", "x0": 212, "y0": 376, "tone": "muted"},
            {"label": "High", "x0": 354, "y0": 376, "tone": "muted"},
            {"label": "Low", "x0": 488, "y0": 376, "tone": "muted"},
            {"label": "Close", "x0": 617, "y0": 376, "tone": "muted"},
            {"label": "CHANGE", "x0": 760, "y0": 376, "tone": "muted"},
            {"label": "Range", "x0": 922, "y0": 376, "tone": "muted"},
            {"label": "MA(7)", "x0": 49, "y0": 417, "tone": "muted"},
            {"label": "MA(25)", "x0": 195, "y0": 417, "tone": "muted"},
            {"label": "MA(99)", "x0": 351, "y0": 417, "tone": "muted"},
            {"label": "Vol(BTR)", "x0": 49, "y0": 941, "tone": "muted"},
            {"label": "Vol(USDT)", "x0": 211, "y0": 941, "tone": "muted"}
          ]},
          "mark": {"type": "text", "align": "left", "baseline": "middle", "dy": 1, "fontSize": 17.5}
        },
        {
          "data": {"values": [
            {"label": "$0.16048000", "x0": 40, "y0": 149, "tone": "bright"},
            {"label": "-3.65%", "x0": 160, "y0": 149, "tone": "down"},
            {"label": "0.16156", "x0": 271, "y0": 376, "tone": "down"},
            {"label": "0.16189", "x0": 405, "y0": 376, "tone": "down"},
            {"label": "0.16038", "x0": 534, "y0": 376, "tone": "down"},
            {"label": "0.16053", "x0": 677, "y0": 376, "tone": "down"},
            {"label": "-0.63%", "x0": 849, "y0": 376, "tone": "down"},
            {"label": "0.93%", "x0": 988, "y0": 376, "tone": "down"},
            {"label": "0.16430", "x0": 112, "y0": 417, "tone": "ma7"},
            {"label": "0.16460", "x0": 268, "y0": 417, "tone": "ma25"},
            {"label": "0.16358", "x0": 424, "y0": 417, "tone": "ma99"},
            {"label": "1.511M", "x0": 135, "y0": 941, "tone": "bright"},
            {"label": "243.508K", "x0": 310, "y0": 941, "tone": "bright"},
            {"label": "10.239M", "x0": 405, "y0": 941, "tone": "vol5"},
            {"label": "12.161M", "x0": 491, "y0": 941, "tone": "vol10"}
          ]},
          "mark": {"type": "text", "font": "DejaVu Sans", "align": "left", "baseline": "middle", "dy": 1, "fontSize": 17}
        },
        {
          "data": {"values": [
            {"label": "Perp", "x0": 175, "y0": 51, "tone": "bright"},
            {"label": "Mark Price", "x0": 25, "y0": 177, "tone": "muted"},
            {"label": "24h High", "x0": 977, "y0": 42, "tone": "muted"},
            {"label": "24h Vol(BTR)", "x0": 1066, "y0": 42, "tone": "muted"},
            {"label": "24h Low", "x0": 977, "y0": 98, "tone": "muted"},
            {"label": "24h Vol(USDT)", "x0": 1066, "y0": 98, "tone": "muted"},
            {"label": "Funding (4h) / Countdown", "x0": 977, "y0": 155, "tone": "muted"}
          ]},
          "mark": {"type": "text", "align": "left", "baseline": "middle", "dy": 1, "fontSize": 14.7}
        },
        {
          "data": {"values": [
            {"label": "0.16047", "x0": 105, "y0": 177, "tone": "bright"},
            {"label": "0.17724", "x0": 977, "y0": 67, "tone": "bright"},
            {"label": "2089.22M", "x0": 1066, "y0": 67, "tone": "bright"},
            {"label": "0.14687", "x0": 977, "y0": 124, "tone": "bright"},
            {"label": "340.46M", "x0": 1066, "y0": 124, "tone": "bright"},
            {"label": "0.04841%", "x0": 977, "y0": 181, "tone": "funding"},
            {"label": "/", "x0": 1053, "y0": 181, "tone": "bright"},
            {"label": "02:43:05", "x0": 1065, "y0": 181, "tone": "bright"},
            {"label": "0.17724", "x0": 296, "y0": 388, "tone": "muted"},
            {"label": "0.14790", "x0": 444, "y0": 877, "tone": "low"}
          ]},
          "mark": {"type": "text", "font": "DejaVu Sans", "align": "left", "baseline": "middle", "dy": 1, "fontSize": 14}
        },
        {
          "data": {"values": [{"label": "0.16053", "x0": 1118, "y0": 667, "tone": "white"}]},
          "mark": {"type": "text", "font": "DejaVu Sans", "align": "center", "baseline": "middle", "dy": 1, "fontSize": 17}
        },
        {
          "data": {"values": [{"label": "@ Yuuki Trading", "x0": 1013, "y0": 1128, "tone": "stamp"}]},
          "mark": {"type": "text", "align": "left", "baseline": "middle", "fontSize": 23}
        },
        {
          "data": {"values": [
            {"x0": 230, "y0": 50, "tone": "bright"},
            {"x0": 352, "y0": 319, "tone": "muted"},
            {"x0": 727, "y0": 319, "tone": "muted"},
            {"x0": 845, "y0": 319, "tone": "muted"}
          ]},
          "mark": {"type": "point", "filled": true, "opacity": 1, "shape": "M-1,-0.7 L1,-0.7 L0,0.7 Z", "size": 170},
          "encoding": {"text": null}
        },
        {
          "data": {"values": [{"x0": 33, "y0": 376}, {"x0": 33, "y0": 417}, {"x0": 33, "y0": 941}]},
          "mark": {"type": "point", "filled": false, "opacity": 1, "color": "#7f8693", "strokeWidth": 1.6, "shape": "M-1,-0.5 L0,0.5 L1,-0.5", "size": 200},
          "encoding": {"color": {"value": "#7f8693"}, "text": null}
        },
        {
          "data": {"values": [{"x0": 401, "y0": 319}]},
          "mark": {"type": "point", "filled": false, "opacity": 1, "strokeWidth": 1.6, "size": 484,
            "shape": "M-0.95,-0.7 H0.95 V1 H-0.95 Z M-0.95,-0.3 H0.95 M-0.5,-1 V-0.5 M0.5,-1 V-0.5 M0.5,0.35 H-0.4 M-0.1,0.05 L-0.45,0.35 L-0.1,0.65"},
          "encoding": {"color": {"value": "#7f8693"}, "text": null}
        },
        {
          "data": {"values": [{"x0": 450, "y0": 319}]},
          "mark": {"type": "point", "filled": false, "opacity": 1, "strokeWidth": 1.6, "size": 484,
            "shape": "M-0.9,-1 V0.9 H1 M-0.6,0.5 L-0.15,0 L0.2,0.3 L0.9,-0.4"},
          "encoding": {"color": {"value": "#7f8693"}, "text": null}
        },
        {
          "data": {"values": [{"x0": 499, "y0": 319}]},
          "mark": {"type": "point", "filled": false, "opacity": 1, "strokeWidth": 1.6, "size": 400,
            "shape": "M-0.85,-0.35 H-0.3 V0.45 H-0.85 Z M-0.57,-0.6 V-0.35 M-0.57,0.45 V0.7 M0.3,-0.6 H0.85 V0.6 H0.3 Z M0.57,-1 V-0.6 M0.57,0.6 V1"},
          "encoding": {"color": {"value": "#7f8693"}, "text": null}
        },
        {
          "data": {"values": [{"x0": 548, "y0": 319}]},
          "mark": {"type": "point", "filled": false, "opacity": 1, "strokeWidth": 1.6, "size": 484,
            "shape": "M-1,-1 H1 M-1,-0.1 H-0.2 M-1,0.9 H-0.3 M0.4,-0.3 L0.95,0 V0.65 L0.4,1 L-0.15,0.65 V0 Z M0.55,0.33 L0.4,0.48 L0.25,0.33 L0.4,0.18 Z"},
          "encoding": {"color": {"value": "#7f8693"}, "text": null}
        },
        {
          "data": {"values": [{"x0": 597, "y0": 319}]},
          "mark": {"type": "point", "filled": false, "opacity": 1, "strokeWidth": 1.6, "size": 400,
            "shape": "M0,-1 L0.87,-0.5 V0.5 L0,1 L-0.87,0.5 V-0.5 Z M0.3,0 L0,0.3 L-0.3,0 L0,-0.3 Z"},
          "encoding": {"color": {"value": "#7f8693"}, "text": null}
        },
        {
          "data": {"values": [{"x0": 994, "y0": 1128}]},
          "mark": {"type": "point", "filled": true, "opacity": 1, "size": 900,
            "shape": "M0,-0.25 L0.25,0 L0,0.25 L-0.25,0 Z M-0.73,-0.25 L-0.48,0 L-0.73,0.25 L-0.98,0 Z M0.73,-0.25 L0.98,0 L0.73,0.25 L0.48,0 Z M0,-1 L0.55,-0.45 L0.3,-0.2 L0,-0.5 L-0.3,-0.2 L-0.55,-0.45 Z M0,1 L0.55,0.45 L0.3,0.2 L0,0.5 L-0.3,0.2 L-0.55,0.45 Z"},
          "encoding": {"color": {"value": "#dfe3e8"}, "text": null}
        }
      ]
    }
  ]
}
